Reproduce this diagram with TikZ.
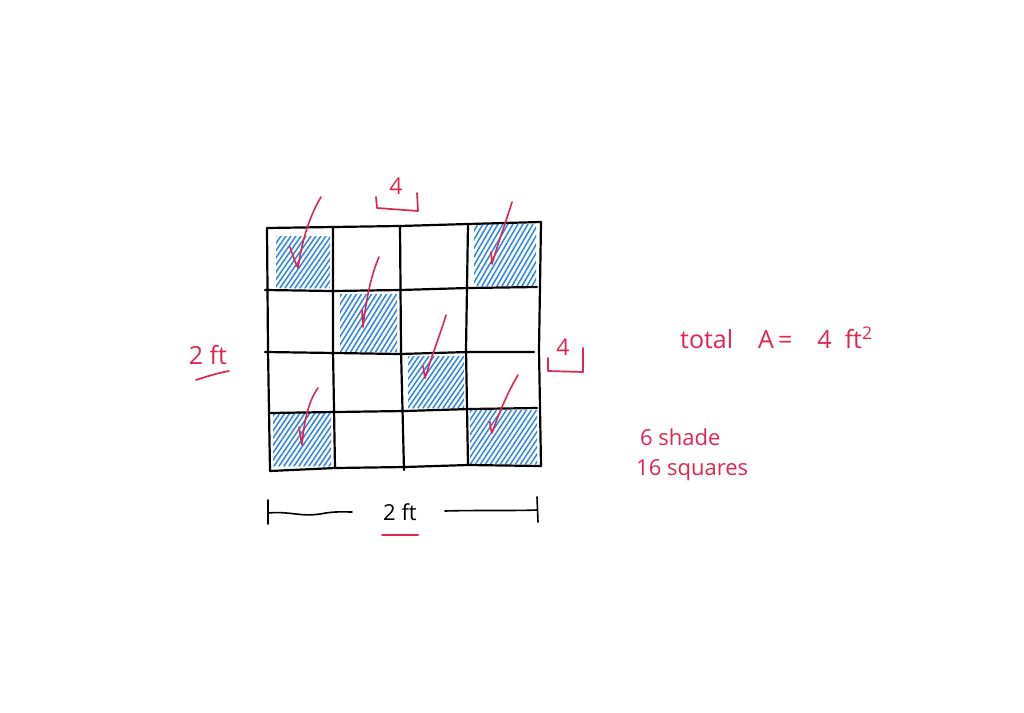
\documentclass[tikz,border=0pt]{standalone}
\usepackage{fontspec}
\setmainfont{Open Sans}
\definecolor{pen}{HTML}{E0264F}
\definecolor{hatch}{HTML}{2E86E6}
\tikzset{
  gridline/.style={black, line width=2.2pt, line cap=round, line join=round},
  redtxt/.style={text=pen, inner sep=0pt, font=\fontsize{23}{26}\selectfont},
  blktxt/.style={text=black, inner sep=0pt, font=\fontsize{22}{26}\selectfont},
  redline/.style={pen, line width=1.7pt, line cap=round, line join=round},
  checkmark/.style={pen, line width=1.6pt, line cap=round, line join=round},
  hatchline/.style={hatch, line width=1.5pt, line cap=round}
}
\newcommand{\hatchcell}[4]{%
  \begin{scope}
    \clip (#1,#2) rectangle (#3,#4);
    \foreach \k in {-80,-75,...,80}{
      \draw[hatchline] ({(#1+#3)/2+\k-18},#4) -- ({(#1+#3)/2+\k+18},#2);
    }
  \end{scope}}
\begin{document}
\begin{tikzpicture}[x=1pt,y=-1pt]
\useasboundingbox[fill=white] (0,0) rectangle (1024,712);
% hatching of shaded cells
\hatchcell{276}{236}{330}{288}
\hatchcell{474}{224}{536}{286}
\hatchcell{340}{294}{397}{352}
\hatchcell{408}{356}{464}{408}
\hatchcell{273}{413}{331}{466}
\hatchcell{470}{410}{537}{464}
% grid
\draw[gridline] (267,228) -- (333,227) -- (400,226) -- (468,224) -- (541,222);
\draw[gridline] (265,290) -- (333,291) -- (400,290) -- (468,288) -- (537,287);
\draw[gridline] (265,352) -- (335,353) -- (400,354) -- (468,352) -- (534,352);
\draw[gridline] (270,413) -- (335,412) -- (405,411) -- (470,409) -- (537,408);
\draw[gridline] (270,471) -- (335,468) -- (405,467) -- (468,465) -- (541,466);
\draw[gridline] (267,228) -- (268,350) -- (270,471);
\draw[gridline] (333,227) -- (333,350) -- (335,468);
\draw[gridline] (400,226) -- (401,350) -- (404,470);
\draw[gridline] (468,224) -- (466,350) -- (468,465);
\draw[gridline] (541,222) -- (539,350) -- (541,466);
% check marks
\draw[checkmark] (290,247) .. controls (293,256) and (295,262) .. (298,268) .. controls (302,240) and (310,215) .. (321,197);
\draw[checkmark] (491,252) .. controls (491,256) and (492,260) .. (492,264) .. controls (499,240) and (506,222) .. (512,202);
\draw[checkmark] (362,310) .. controls (362,316) and (363,322) .. (363,327) .. controls (366,300) and (371,275) .. (379,257);
\draw[checkmark] (423,366) .. controls (424,371) and (424,374) .. (425,378) .. controls (432,355) and (440,335) .. (446,315);
\draw[checkmark] (299,427) .. controls (300,433) and (301,439) .. (302,445) .. controls (304,420) and (309,400) .. (318,388);
\draw[checkmark] (490,422) .. controls (490,426) and (491,430) .. (492,433) .. controls (500,410) and (508,392) .. (518,375);
% top "4" with bracket
\node[redtxt] (ttop) at (396,186) {4};
\coordinate (tb1) at (376,197);
\coordinate (tb2) at (377,208);
\coordinate (tb3) at (418,211);
\coordinate (tb4) at (417,193);
\draw[redline] (tb1) -- (tb2) -- (tb3) -- (tb4);
% right "4" with bracket
\node[redtxt] (tright) at (563,347) {4};
\coordinate (rb1) at (548,358);
\coordinate (rb2) at (548,371);
\coordinate (rb3) at (583,372);
\coordinate (rb4) at (583,348);
\draw[redline] (rb1) -- (rb2) -- (rb3) -- (rb4);
% left "2 ft"
\node[redtxt, font=\fontsize{25}{28}\selectfont] (tleft) at (208,355) {2\ ft};
\coordinate (lu1) at (196,380);
\coordinate (lu2) at (229,371);
\draw[redline] (lu1) .. controls (208,376) and (218,373) .. (lu2);
% bottom dimension
\node[blktxt] (tbot) at (400,512) {2 ft};
\coordinate (bl1) at (268,500);
\coordinate (bl2) at (268,524);
\coordinate (bm1) at (268,513);
\coordinate (bm2) at (352,512);
\coordinate (bm3) at (445,511);
\coordinate (bm4) at (537,510);
\coordinate (br1) at (537,497);
\coordinate (br2) at (538,522);
\draw[gridline, line width=1.6pt] (bl1) -- (bl2);
\draw[gridline, line width=1.6pt] (br1) -- (br2);
\draw[gridline, line width=1.6pt] (bm1) .. controls (290,511) and (300,517) .. (320,514) .. controls (335,511) and (345,512) .. (bm2);
\draw[gridline, line width=1.6pt] (bm3) .. controls (480,510) and (510,511) .. (bm4);
\coordinate (bu1) at (382,535);
\coordinate (bu2) at (418,535);
\draw[redline, line width=2pt] (bu1) -- (bu2);
% right-hand notes
\node[redtxt, anchor=west, font=\fontsize{25}{28}\selectfont] (ttotal) at (680,338) {total\quad A\,=\quad 4\ \ ft\textsuperscript{2}};
\node[redtxt, anchor=west, font=\fontsize{22}{26}\selectfont] (tshade) at (640,437) {6 shade};
\node[redtxt, anchor=west, font=\fontsize{22}{26}\selectfont] (tsq) at (636,470) {16 squares};
\end{tikzpicture}
\end{document}
